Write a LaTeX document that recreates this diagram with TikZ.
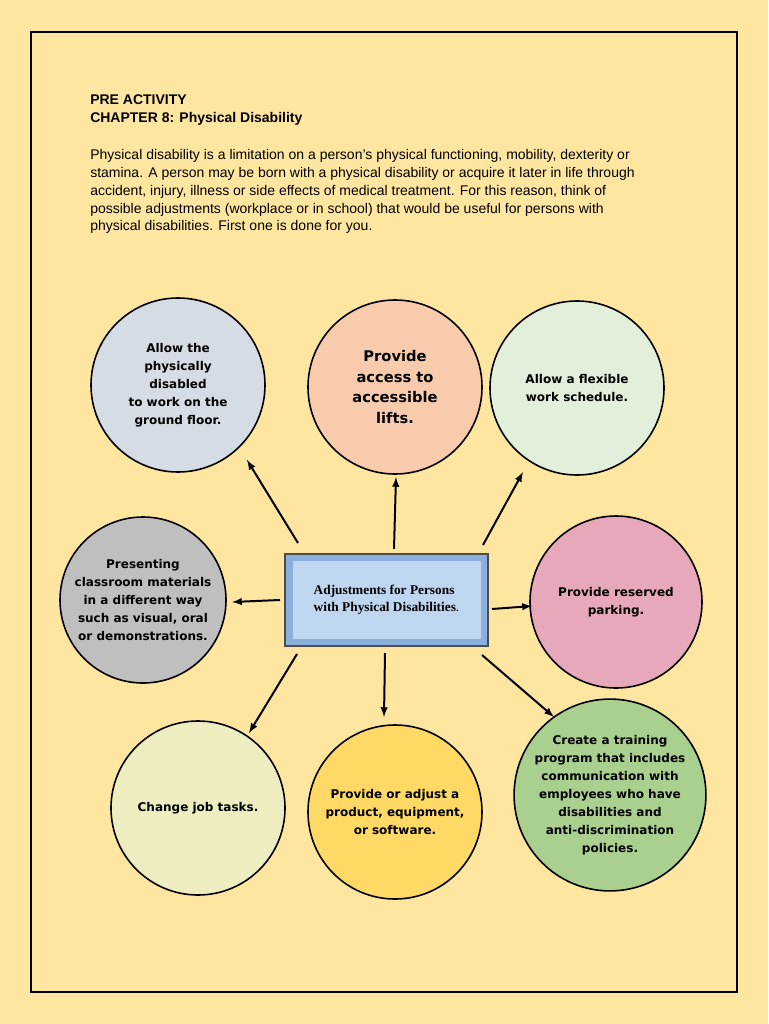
\documentclass[tikz,border=0pt]{standalone}
\usepackage{fontspec}
\setmainfont{Liberation Sans}
\newfontfamily\cfont{DejaVu Sans}
\newfontfamily\sfont{Liberation Serif}
\begin{document}
\begin{tikzpicture}[x=0.75pt,y=-0.75pt,
  circ/.style={circle,draw=black,line width=1.2pt,minimum size=#1*0.75pt,inner sep=0pt,align=center,font=\cfont\fontsize{9}{13.5}\selectfont\bfseries},
  arr/.style={-latex,line width=1.5pt}]
\fill[fill={rgb,255:red,255;green,230;blue,160}] (0,0) rectangle (768,1024);
\useasboundingbox (0,0) rectangle (768,1024);
\draw[line width=1.5pt] (31,32) rectangle (737,992);
\node[anchor=north west,inner sep=0pt,align=left,font=\fontsize{10.5}{13.5}\selectfont\bfseries] (title) at (90,94) {PRE ACTIVITY\\CHAPTER 8: Physical Disability};
\node[anchor=north west,inner sep=0pt,align=left,font=\fontsize{10.5}{13.4}\selectfont] (para) at (90,149) {Physical disability is a limitation on a person's physical functioning, mobility, dexterity or\\stamina. A person may be born with a physical disability or acquire it later in life through\\accident, injury, illness or side effects of medical treatment. For this reason, think of\\possible adjustments (workplace or in school) that would be useful for persons with\\physical disabilities. First one is done for you.};
\node[circ=174,fill={rgb,255:red,214;green,220;blue,228}] (c1) at (178,385) {Allow the\\physically\\disabled\\to work on the\\ground floor.};
\node[circ=174,fill={rgb,255:red,248;green,203;blue,173},font=\cfont\fontsize{11}{15.5}\selectfont\bfseries] (c2) at (395,387) {Provide\\access to\\accessible\\lifts.};
\node[circ=174,fill={rgb,255:red,226;green,239;blue,218}] (c3) at (577,388) {Allow a flexible\\work schedule.};
\node[circ=166,fill={rgb,255:red,191;green,191;blue,191}] (c4) at (143,600) {Presenting\\classroom materials\\in a different way\\such as visual, oral\\or demonstrations.};
\node[circ=172,fill={rgb,255:red,232;green,168;blue,188}] (c5) at (616,602) {Provide reserved\\parking.};
\node[circ=174,fill={rgb,255:red,237;green,237;blue,192}] (c6) at (198,808) {Change job tasks.};
\node[circ=174,fill={rgb,255:red,255;green,217;blue,102}] (c7) at (395,812) {Provide or adjust a\\product, equipment,\\or software.};
\node[circ=176,fill={rgb,255:red,169;green,208;blue,142}] (c8) at (610,795) {Create a training\\program that includes\\communication with\\employees who have\\disabilities and\\anti-discrimination\\policies.};
\node[draw=black!70,line width=0.8pt,fill={rgb,255:red,140;green,176;blue,222},minimum width=203*0.75pt,minimum height=92*0.75pt,inner sep=0pt] (box) at (386.5,600) {};
\node[fill={rgb,255:red,190;green,214;blue,240},minimum width=188*0.75pt,minimum height=78*0.75pt,inner sep=0pt,align=left,font=\sfont\fontsize{10}{13}\selectfont\bfseries] (boxt) at (386.5,600) {Adjustments for Persons\\with Physical Disabilities\mdseries.};
\coordinate (a1) at (298,543); \coordinate (b1) at (247,460);
\coordinate (a2) at (394,549); \coordinate (b2) at (396,477);
\coordinate (a3) at (483,545); \coordinate (b3) at (523,472);
\coordinate (a4) at (280,600); \coordinate (b4) at (232,602);
\coordinate (a5) at (492,609); \coordinate (b5) at (532,606);
\coordinate (a6) at (297,654); \coordinate (b6) at (249,733);
\coordinate (a7) at (385,653); \coordinate (b7) at (384,717);
\coordinate (a8) at (482,655); \coordinate (b8) at (554,717);
\foreach \i in {1,...,8} \draw[arr] (a\i) -- (b\i);
\end{tikzpicture}
\end{document}
